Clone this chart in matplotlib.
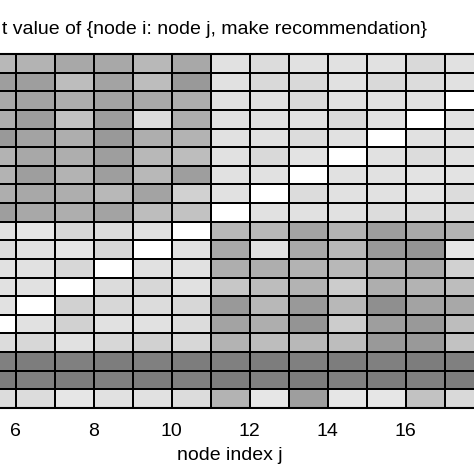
import numpy as np
import matplotlib
matplotlib.use("Agg")
import matplotlib.pyplot as plt

plt.rcParams['font.family'] = ['Liberation Sans', 'DejaVu Sans']

cols = list(range(5, 18))  # node index j (cell j spans [j, j+1])
# rows top to bottom; gray level of each cell
values = [
    [0.72, 0.70, 0.66, 0.66, 0.72, 0.66, 0.88, 0.86, 0.88, 0.88, 0.88, 0.85, 0.88],
    [0.62, 0.62, 0.74, 0.64, 0.74, 0.60, 0.88, 0.85, 0.85, 0.88, 0.85, 0.86, 0.88],
    [0.66, 0.64, 0.68, 0.64, 0.66, 0.68, 0.88, 0.88, 0.85, 0.88, 0.88, 0.88, 1.00],
    [0.68, 0.62, 0.76, 0.62, 0.86, 0.68, 0.88, 0.88, 0.88, 0.85, 0.88, 1.00, 0.88],
    [0.60, 0.64, 0.68, 0.60, 0.68, 0.70, 0.88, 0.88, 0.86, 0.88, 1.00, 0.88, 0.88],
    [0.70, 0.66, 0.68, 0.62, 0.72, 0.74, 0.88, 0.85, 0.89, 1.00, 0.88, 0.86, 0.88],
    [0.70, 0.62, 0.70, 0.62, 0.72, 0.62, 0.88, 0.88, 1.00, 0.88, 0.88, 0.89, 0.89],
    [0.68, 0.66, 0.68, 0.72, 0.64, 0.82, 0.88, 1.00, 0.86, 0.88, 0.88, 0.89, 0.86],
    [0.62, 0.66, 0.68, 0.64, 0.74, 0.76, 1.00, 0.88, 0.88, 0.88, 0.86, 0.86, 0.86],
    [0.88, 0.90, 0.84, 0.86, 0.88, 1.00, 0.72, 0.72, 0.64, 0.70, 0.62, 0.66, 0.70],
    [0.86, 0.88, 0.90, 0.84, 1.00, 0.88, 0.66, 0.88, 0.66, 0.72, 0.60, 0.58, 0.90],
    [0.88, 0.88, 0.84, 1.00, 0.88, 0.88, 0.68, 0.68, 0.70, 0.72, 0.68, 0.66, 0.82],
    [0.88, 0.88, 1.00, 0.86, 0.84, 0.88, 0.78, 0.74, 0.70, 0.80, 0.68, 0.70, 0.74],
    [0.88, 1.00, 0.82, 0.84, 0.86, 0.84, 0.60, 0.72, 0.60, 0.72, 0.56, 0.64, 0.66],
    [1.00, 0.88, 0.82, 0.88, 0.88, 0.86, 0.64, 0.68, 0.58, 0.80, 0.62, 0.60, 0.74],
    [0.86, 0.84, 0.88, 0.84, 0.82, 0.84, 0.70, 0.74, 0.72, 0.74, 0.60, 0.60, 0.76],
    [0.50, 0.49, 0.50, 0.49, 0.50, 0.49, 0.50, 0.49, 0.50, 0.49, 0.50, 0.49, 0.50],
    [0.49, 0.50, 0.49, 0.50, 0.49, 0.50, 0.49, 0.50, 0.49, 0.50, 0.49, 0.50, 0.49],
    [0.86, 0.86, 0.90, 0.88, 0.88, 0.86, 0.70, 0.90, 0.62, 0.90, 0.90, 0.76, 0.85],
]
xticks = [6, 8, 10, 12, 14, 16]
title = "t value of {node i: node j, make recommendation}"
xlabel = "node index j"

Z = np.array(values)
nrows = Z.shape[0]
xedges = np.arange(cols[0], cols[-1] + 2)
yedges = np.arange(nrows + 1)

fig = plt.figure(figsize=(4.74, 4.74), dpi=100)
ax = fig.add_axes([-23.5 / 474, 66 / 474, 507 / 474, 354 / 474])
ax.pcolormesh(xedges, yedges, Z, cmap='gray', vmin=0, vmax=1,
              edgecolors='black', linewidth=1.3)
ax.set_xlim(xedges[0], xedges[-1])
ax.set_ylim(nrows, 0)
ax.set_xticks(xticks)
ax.set_xticklabels([str(t) for t in xticks], fontsize=14)
ax.tick_params(axis='x', length=0, pad=11)
ax.set_yticks([])
for s in ax.spines.values():
    s.set_linewidth(1.5)
ax.set_xlabel(xlabel, fontsize=14, labelpad=5)
fig.text(2 / 474, 1 - 29 / 474, title, fontsize=14, ha='left', va='center')
fig.savefig("out.png", dpi=100)
